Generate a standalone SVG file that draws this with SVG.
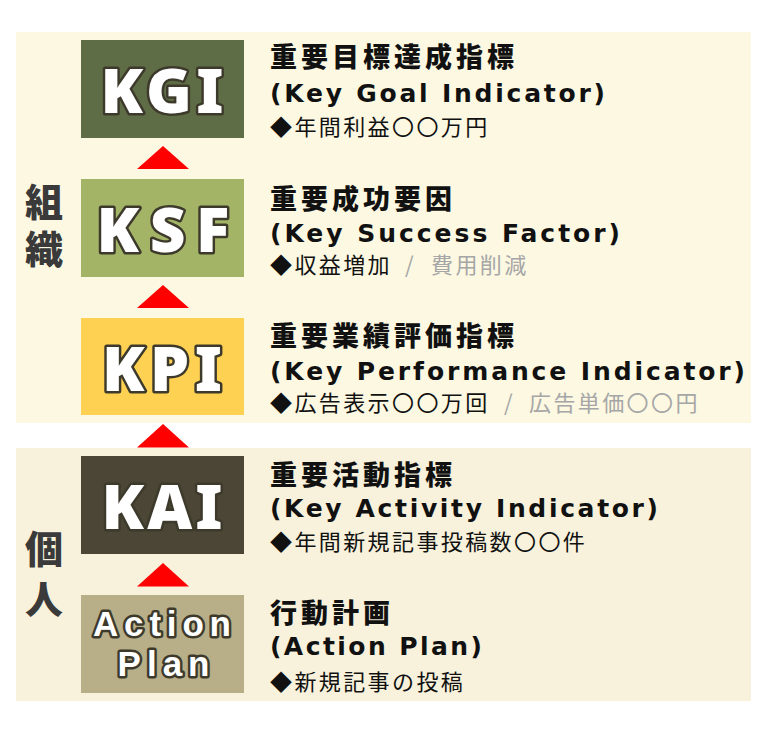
<svg xmlns="http://www.w3.org/2000/svg" width="768" height="735" viewBox="0 0 768 735">
<style>
.lbl{font-family:"Noto Sans","Liberation Sans",sans-serif;font-weight:900;fill:#ffffff;stroke:#3d3a2c;stroke-width:5;stroke-linejoin:round;paint-order:stroke;text-anchor:middle}
.big{font-size:62px}
.ap{font-family:"Liberation Sans",sans-serif;font-weight:bold;font-size:35px}
.ttl{font-family:"Noto Sans CJK JP","Noto Sans",sans-serif;font-weight:900;font-size:27px;letter-spacing:4px;fill:#111111}
.eng{font-family:"DejaVu Sans","Liberation Sans",sans-serif;font-weight:bold;font-size:25px;fill:#111111}
.bul{font-family:"Noto Sans CJK JP","Noto Sans",sans-serif;font-size:22px;letter-spacing:2.4px;fill:#111111}
.gry{fill:#a6a6a6}
.side{font-family:"Noto Sans CJK JP",sans-serif;font-weight:900;font-size:38px;fill:#3a3a3a;text-anchor:middle;writing-mode:vertical-rl}
.tri{fill:#ff0000}
</style>
<rect x="0" y="0" width="768" height="735" fill="#ffffff"/>
<rect x="16" y="32" width="735" height="391" fill="#fcf8e2"/>
<rect x="16" y="448" width="735" height="253" fill="#f8f1db"/>

<g id="side-labels">
<text class="side" x="44" y="230" letter-spacing="9">組織</text>
<text class="side" x="44" y="580" letter-spacing="12">個人</text>
</g>

<g id="connectors">
<polygon class="tri" points="163,146 189,169 137,169"/>
<polygon class="tri" points="163,285 189,308 137,308"/>
<polygon class="tri" points="163,424 189,447.5 137,447.5"/>
<polygon class="tri" points="163,563 189,586.5 137,586.5"/>
</g>

<g id="kgi">
<rect x="81" y="40" width="163" height="98" fill="#5f6d46"/>
<text class="lbl big" x="162" y="113" textLength="123" lengthAdjust="spacing">KGI</text>
<text class="ttl" x="270" y="67">重要目標達成指標</text>
<text class="eng" x="270" y="101.5" textLength="335" lengthAdjust="spacing">(Key Goal Indicator)</text>
<text class="bul" x="270" y="134.5">◆年間利益〇〇万円</text>
</g>

<g id="ksf">
<rect x="81" y="179" width="163" height="98" fill="#a3b466"/>
<text class="lbl big" x="163" y="251.5" textLength="133" lengthAdjust="spacing">KSF</text>
<text class="ttl" x="270" y="209">重要成功要因</text>
<text class="eng" x="270" y="241.5" textLength="350" lengthAdjust="spacing">(Key Success Factor)</text>
<text class="bul" x="270" y="273">◆収益増加</text>
<text class="bul gry" x="405" y="273">/</text>
<text class="bul gry" x="431" y="273">費用削減</text>
</g>

<g id="kpi">
<rect x="81" y="318" width="163" height="97" fill="#ffd152"/>
<text class="lbl big" x="162" y="390.5" textLength="120" lengthAdjust="spacing">KPI</text>
<text class="ttl" x="270" y="346">重要業績評価指標</text>
<text class="eng" x="270" y="380" textLength="475" lengthAdjust="spacing">(Key Performance Indicator)</text>
<text class="bul" x="270" y="411">◆広告表示〇〇万回</text>
<text class="bul gry" x="504" y="411">/</text>
<text class="bul gry" x="529" y="411">広告単価〇〇円</text>
</g>

<g id="kai">
<rect x="81" y="456" width="163" height="98" fill="#4b4636"/>
<text class="lbl big" x="162" y="529" textLength="121" lengthAdjust="spacing">KAI</text>
<text class="ttl" x="270" y="485">重要活動指標</text>
<text class="eng" x="270" y="516.5" textLength="388" lengthAdjust="spacing">(Key Activity Indicator)</text>
<text class="bul" x="270" y="549.5">◆年間新規記事投稿数〇〇件</text>
</g>

<g id="action-plan">
<rect x="81" y="595" width="163" height="98" fill="#b8ae88"/>
<text class="lbl ap"><tspan x="162" y="636" textLength="138" lengthAdjust="spacing">Action</tspan><tspan x="163.5" y="676" textLength="92" lengthAdjust="spacing">Plan</tspan></text>
<text class="ttl" x="270" y="623">行動計画</text>
<text class="eng" x="270" y="655" textLength="212" lengthAdjust="spacing">(Action Plan)</text>
<text class="bul" x="270" y="689.5">◆新規記事の投稿</text>
</g>
</svg>
